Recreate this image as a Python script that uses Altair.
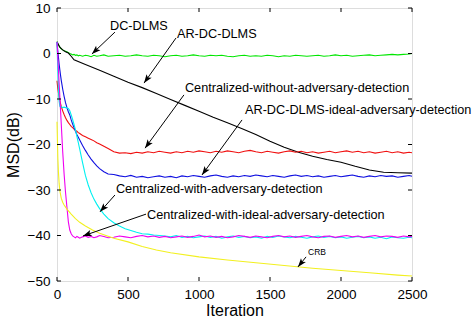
import math
import altair as alt
import pandas as pd

# ---------------- data ----------------
# shared iteration grid for the noisy curves
X = [0, 5, 10, 15, 20, 25, 30, 40, 50, 60, 70, 80, 90, 100, 110, 120, 130, 140,
     150, 160, 180, 200, 220, 240, 260, 280, 300, 330, 360] + list(range(400, 2481, 40)) + [2500]

DC_DLMS = [2.6, 2.2, 1.9, 1.6, 1.4, 1.2, 1.0, 0.8, 0.6, 0.5, 0.4, 0.2, 0.0, -0.1, -0.3,
           -0.2, -0.4, -0.3, -0.5, -0.4, -0.6, -0.4, -0.5, -0.7, -0.4, -0.6, -0.5, -0.3, -0.6,
           -0.5, -0.4, -0.6, -0.5, -0.3, -0.5, -0.6, -0.4, -0.5, -0.7, -0.5, -0.4, -0.6, -0.5,
           -0.3, -0.5, -0.6, -0.4, -0.5, -0.4, -0.6, -0.7, -0.5, -0.4, -0.6, -0.5, -0.6, -0.4,
           -0.5, -0.7, -0.5, -0.6, -0.4, -0.5, -0.6, -0.5, -0.4, -0.6, -0.5, -0.3, -0.5, -0.4,
           -0.6, -0.5, -0.4, -0.3, -0.5, -0.4, -0.3, -0.2, -0.3, -0.2, -0.1, 0.0]

CENT_WITHOUT = [-6.0, -7.5, -8.6, -9.5, -10.3, -11.0, -11.6, -12.6, -13.4, -14.1, -14.7, -15.2,
                -15.6, -16.0, -16.3, -16.6, -16.9, -17.1, -17.4, -17.6, -18.0, -18.3, -18.6,
                -18.9, -19.2, -19.6, -19.9, -20.4, -20.9,
                -21.6, -21.9, -21.8, -22.0, -21.7, -21.9, -21.6, -21.8, -21.5, -21.7, -21.9,
                -21.6, -21.8, -21.5, -21.7, -21.4, -21.6, -21.8, -21.5, -21.7, -21.4, -21.6,
                -21.8, -21.5, -21.3, -21.6, -21.8, -21.5, -21.7, -21.9, -21.6, -21.4, -21.7,
                -21.5, -21.8, -21.6, -21.9, -21.7, -21.5, -21.8, -21.6, -21.4, -21.7, -21.5,
                -21.8, -21.6, -21.9, -21.7, -21.5, -21.8, -21.6, -21.9, -21.7, -21.8]

AR_IDEAL = [2.5, 0.8, -0.8, -2.3, -3.6, -4.8, -5.9, -7.8, -9.4, -10.8, -11.9, -12.8, -13.5,
            -14.6, -15.5, -16.3, -17.1, -17.8, -18.4, -19.0, -20.2, -21.3, -22.3, -23.2, -24.0,
            -24.7, -25.3, -26.0, -26.5,
            -26.6, -26.9, -27.1, -26.8, -27.2, -27.0, -27.3, -27.1, -26.9, -27.2, -27.0, -27.3,
            -26.9, -27.1, -26.8, -27.0, -27.2, -26.9, -26.7, -27.0, -27.2, -26.9, -27.1, -26.8,
            -27.0, -26.7, -26.9, -27.1, -26.8, -27.0, -27.2, -26.9, -26.7, -27.0, -26.8, -27.1,
            -26.9, -27.2, -27.0, -26.8, -27.1, -26.9, -26.7, -27.0, -27.2, -26.9, -27.1, -26.8,
            -27.0, -26.9, -27.2, -27.0, -26.8, -27.0]

CENT_WITH = [2.5, -3.0, -7.5, -10.5, -11.6, -11.8, -11.7, -11.9, -11.8, -11.9, -12.0, -12.1,
             -12.6, -13.5, -14.5, -15.6, -16.8, -18.2, -19.6, -21.0, -24.0, -26.8, -28.9, -30.6,
             -32.0, -33.1, -34.1, -35.3, -36.3,
             -37.2, -37.9, -38.5, -38.9, -39.3, -39.6, -39.7, -39.9, -40.0,
             -40.1, -40.3, -40.0, -40.4, -40.2, -40.5, -40.3, -40.1, -40.4, -40.2, -40.6, -40.3,
             -40.1, -40.4, -40.2, -40.5, -40.3, -40.6, -40.2, -40.4, -40.1, -40.3, -40.5, -40.2,
             -40.4, -40.6, -40.3, -40.1, -40.4, -40.2, -40.5, -40.3, -40.6, -40.4, -40.2, -40.5,
             -40.3, -40.6, -40.4, -40.7, -40.3, -40.5, -40.6, -40.4, -40.5]

CENT_IDEAL = [2.5, -0.5, -3.5, -6.5, -9.5, -12.5, -15.5, -21.5, -26.5, -30.5, -33.8, -37.0,
              -38.8, -39.6, -40.1, -40.3, -40.5, -40.2, -40.4, -40.6, -40.3, -40.1, -40.4, -40.2,
              -40.5, -40.3, -40.0, -40.2, -40.5,
              -40.4, -40.1, -40.3, -40.5, -40.2, -40.0, -40.3, -40.1, -40.4, -40.2, -40.5, -40.3,
              -40.1, -40.4, -40.2, -39.9, -40.3, -40.1, -40.4, -40.2, -40.5, -40.3, -40.0, -40.2,
              -40.4, -40.1, -40.3, -40.5, -40.2, -40.0, -40.3, -40.1, -40.4, -40.2, -40.0, -40.3,
              -40.5, -40.2, -40.1, -40.4, -40.2, -40.0, -40.3, -40.1, -40.4, -40.2, -40.0, -40.3,
              -40.1, -40.2, -40.4, -40.1, -40.3, -40.2]

# smooth curves on their own grids
AR_X = [0, 20, 40, 60, 80, 100, 120, 200, 300, 400, 500, 600, 700, 800, 900, 1000, 1100, 1200,
        1300, 1400, 1500, 1600, 1700, 1800, 1900, 2000, 2100, 2200, 2300, 2400, 2500]
AR_DC_DLMS = [2.6, 1.4, 0.8, 0.4, 0.1, -0.6, -1.4, -2.4, -3.7, -5.0, -6.3, -7.5, -8.8, -10.1,
              -11.4, -12.7, -14.0, -15.2, -16.5, -17.8, -19.3, -20.6, -21.7, -22.6, -23.3, -23.9,
              -24.8, -25.6, -26.1, -26.2, -26.3]

CRB_X = [0, 3, 6, 10, 15, 20, 30, 40, 50, 70, 100, 130, 160, 200, 250, 300, 400, 500, 600,
         700, 800, 1000, 1200, 1400, 1600, 1800, 2000, 2200, 2400, 2500]
CRB = [-15.0, -19.0, -23.0, -26.0, -28.5, -30.2, -31.8, -32.7, -33.3, -34.2, -35.3, -36.3, -37.1,
       -37.9, -38.8, -39.5, -40.6, -41.4, -42.4, -43.2, -43.8, -44.7, -45.4, -46.0, -46.6, -47.2,
       -47.7, -48.2, -48.7, -48.9]

XTICKS = [0, 500, 1000, 1500, 2000, 2500]
YTICKS = [10, 0, -10, -20, -30, -40, -50]

# annotations: label, text x, text y, font size, arrow start x/y, arrow tip x/y
ANN_LABELS = ["DC-DLMS", "AR-DC-DLMS", "Centralized-without-adversary-detection",
              "AR-DC-DLMS-ideal-adversary-detection", "Centralized-with-adversary-detection",
              "Centralized-with-ideal-adversary-detection", "CRB"]
ANN_TX = [373, 845, 901, 1324, 415, 634, 1768]
ANN_TY = [6.0, 4.3, -7.6, -12.4, -29.8, -35.4, -43.6]
ANN_FS = [12.7, 12.7, 12.7, 12.7, 12.7, 12.7, 8.5]
ANN_SX = [408, 838, 894, 1303, 408, 627, 1754]
ANN_SY = [4.7, 3.4, -9.1, -14.6, -31.1, -35.3, -44.7]
ANN_EX = [246, 613, 620, 1021, 303, 183, 1697]
ANN_EY = [-0.1, -6.5, -20.8, -26.7, -34.8, -40.1, -46.9]

# ---------------- layout ----------------
W, H = 355, 273
FONT = "Liberation Sans"

xs = alt.Scale(domain=[0, 2500], nice=False, zero=False)
ys = alt.Scale(domain=[-50, 10], nice=False, zero=False)
xax = alt.Axis(values=XTICKS, format="d", title="Iteration", ticks=False, tickSize=0,
               domain=False, grid=False, labelFlush=False, labelPadding=6, titlePadding=2,
               labelFontSize=13.5, titleFontSize=16, labelFont=FONT, titleFont=FONT,
               titleFontWeight="normal", labelColor="black", titleColor="black")
yax = alt.Axis(values=YTICKS, format="d", title="MSD(dB)", ticks=False, tickSize=0,
               domain=False, grid=False, labelFlush=False, labelPadding=7, titlePadding=6,
               labelFontSize=13.5, titleFontSize=16, labelFont=FONT, titleFont=FONT,
               titleFontWeight="normal", labelColor="black", titleColor="black")


def X_(f):
    return alt.X(f, type="quantitative", scale=xs, axis=xax)


def Y_(f):
    return alt.Y(f, type="quantitative", scale=ys, axis=yax)


series = [
    ("DC-DLMS", X, DC_DLMS, "#00e600"),
    ("AR-DC-DLMS", AR_X, AR_DC_DLMS, "#000000"),
    ("Centralized-without", X, CENT_WITHOUT, "#f01010"),
    ("AR-ideal", X, AR_IDEAL, "#1010e0"),
    ("Centralized-with", X, CENT_WITH, "#00f0f0"),
    ("Centralized-ideal", X, CENT_IDEAL, "#f000f0"),
    ("CRB", CRB_X, CRB, "#f2f020"),
]

layers = []
for name, xv, yv, col in series:
    if len(xv) != len(yv):
        raise ValueError(f"{name}: {len(xv)} x vs {len(yv)} y")
    df = pd.DataFrame({"x": xv, "y": yv})
    layers.append(alt.Chart(df).mark_line(color=col, strokeWidth=1.1).encode(x=X_("x"), y=Y_("y")))

# inward ticks on all four sides
xt = pd.DataFrame({"x": XTICKS})
yt = pd.DataFrame({"y": YTICKS})
layers.append(alt.Chart(xt).mark_rule(color="black", strokeWidth=1).encode(
    x=X_("x"), y=alt.value(H), y2=alt.value(H - 4)))
layers.append(alt.Chart(xt).mark_rule(color="black", strokeWidth=1).encode(
    x=X_("x"), y=alt.value(0), y2=alt.value(4)))
layers.append(alt.Chart(yt).mark_rule(color="black", strokeWidth=1).encode(
    y=Y_("y"), x=alt.value(0), x2=alt.value(4)))
layers.append(alt.Chart(yt).mark_rule(color="black", strokeWidth=1).encode(
    y=Y_("y"), x=alt.value(W), x2=alt.value(W - 4)))

# annotations
angles = []
for sx, sy, ex, ey in zip(ANN_SX, ANN_SY, ANN_EX, ANN_EY):
    dx = (ex - sx) * W / 2500.0
    dy = -(ey - sy) * H / 60.0
    angles.append(math.degrees(math.atan2(dx, -dy)) % 360)

ann = pd.DataFrame({"label": ANN_LABELS, "tx": ANN_TX, "ty": ANN_TY, "fs": ANN_FS,
                    "x": ANN_SX, "y": ANN_SY, "x2": ANN_EX, "y2": ANN_EY, "ang": angles})

layers.append(alt.Chart(ann).mark_rule(color="black", strokeWidth=1).encode(
    x=X_("x"), y=Y_("y"), x2="x2:Q", y2="y2:Q"))
layers.append(alt.Chart(ann).mark_point(
    shape="M0,0L-0.4,1.1L0,0.85L0.4,1.1Z", filled=True, color="black", opacity=1, size=250
).encode(x=X_("x2"), y=Y_("y2"), angle=alt.Angle("ang:Q", scale=None)))
layers.append(alt.Chart(ann).mark_text(align="left", baseline="middle", font=FONT,
                                       color="black").encode(
    x=X_("tx"), y=Y_("ty"), text="label:N", size=alt.Size("fs:Q", scale=None)))

chart = alt.layer(*layers).properties(
    width=W, height=H,
    autosize=alt.AutoSizeParams(type="none"),
    padding={"left": 57, "top": 8, "right": 62, "bottom": 42},
).configure_view(stroke="black", strokeWidth=1).configure(background="white")

chart.save("out.html", embed_options={"renderer": "svg", "actions": False})
